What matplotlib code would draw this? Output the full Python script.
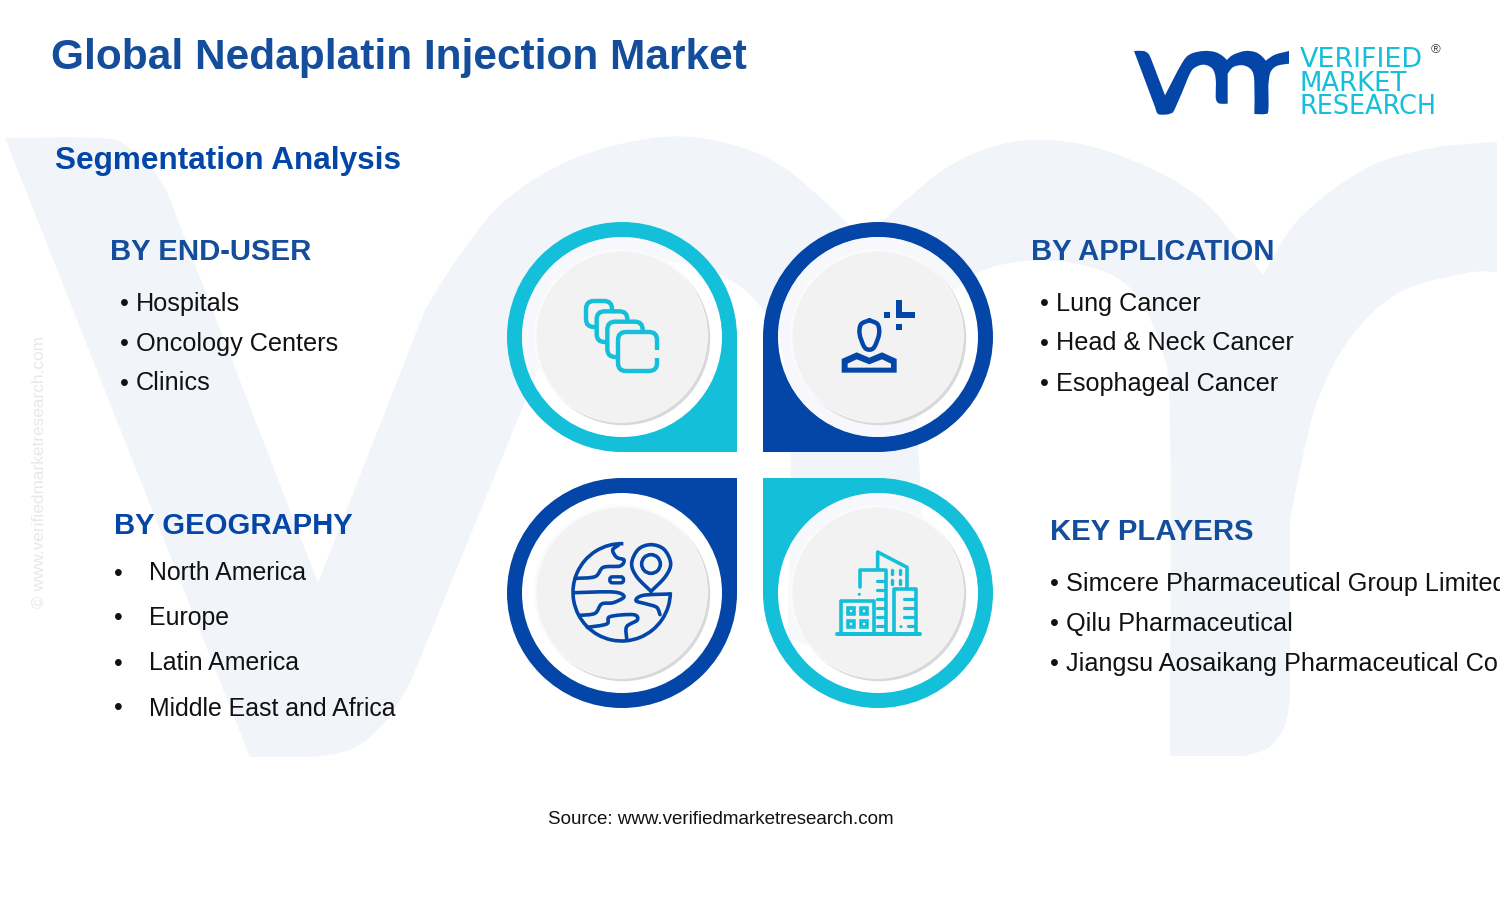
import matplotlib
matplotlib.use("Agg")
import matplotlib.pyplot as plt
from matplotlib.path import Path
from matplotlib.patches import PathPatch, Circle, FancyBboxPatch, Polygon, Rectangle, Arc

NAVY = "#0445a8"
TEAL = "#14bfd9"
HEAD = "#134d9b"
INK = "#111111"

TITLE = "Global Nedaplatin Injection Market"
SUBTITLE = "Segmentation Analysis"
SOURCE = "Source: www.verifiedmarketresearch.com"
WATERMARK = "© www.verifiedmarketresearch.com"
LOGO_WORDS = ["VERIFIED", "MARKET", "RESEARCH"]
END_USER = ["Hospitals", "Oncology Centers", "Clinics"]
APPLICATION = ["Lung Cancer", "Head & Neck Cancer", "Esophageal Cancer"]
GEOGRAPHY = ["North America", "Europe", "Latin America", "Middle East and Africa"]
PLAYERS = ["Simcere Pharmaceutical Group Limited", "Qilu Pharmaceutical",
           "Jiangsu Aosaikang Pharmaceutical Co"]

plt.rcParams["font.family"] = ["Liberation Sans", "DejaVu Sans"]
fig = plt.figure(figsize=(15, 9.11), dpi=100)
ax = fig.add_axes([0, 0, 1, 1])
ax.set_xlim(0, 1500)
ax.set_ylim(911, 0)
ax.axis("off")
PX = 0.72


def curve_path(pieces, ox=0.0, oy=0.0, s=1.0, closed=True):
    """Join pieces of points; inside a piece the outline is smooth, between pieces it has a corner."""
    verts, codes = [], []
    for k, pts in enumerate(pieces):
        if k == 0:
            verts.append(pts[0])
            codes.append(Path.MOVETO)
        else:
            verts.append(pts[0])
            codes.append(Path.LINETO)
        n = len(pts)
        for i in range(n - 1):
            p0 = pts[max(i - 1, 0)]
            p1, p2 = pts[i], pts[i + 1]
            p3 = pts[min(i + 2, n - 1)]
            verts.append((p1[0] + (p2[0] - p0[0]) / 6, p1[1] + (p2[1] - p0[1]) / 6))
            verts.append((p2[0] - (p3[0] - p1[0]) / 6, p2[1] - (p3[1] - p1[1]) / 6))
            verts.append(p2)
            codes += [Path.CURVE4] * 3
    if closed:
        verts.append(verts[0])
        codes.append(Path.LINETO)
    return Path([(ox + x * s, oy + y * s) for x, y in verts], codes)


# background watermark, traced in pixels
WM_PIECES = [
    [(5, 138), (100, 138), (128, 147), (153, 170), (167, 192)],
    [(167, 192), (318, 583)],
    [(318, 583), (425, 310)],
    [(425, 310), (455, 262), (500, 205), (560, 165), (630, 142), (700, 138), (780, 165), (865, 240)],
    [(865, 240), (900, 205), (960, 160), (1030, 140), (1110, 152), (1200, 198), (1263, 275)],
    [(1263, 275), (1300, 218), (1367, 168), (1433, 148), (1497, 142)],
    [(1497, 142), (1497, 272)],
    [(1497, 272), (1467, 273), (1400, 292), (1350, 338), (1317, 402), (1300, 470), (1290, 520)],
    [(1290, 520), (1290, 700)],
    [(1290, 700), (1284, 728), (1268, 748), (1245, 756)],
    [(1245, 756), (1170, 756)],
    [(1170, 756), (1170, 425), (1160, 345), (1127, 285), (1067, 262), (1000, 265), (955, 290), (913, 350)],
    [(913, 350), (913, 640), (788, 640)],
    [(788, 640), (788, 390), (750, 295), (667, 262), (600, 290), (537, 372)],
    [(537, 372), (410, 683)],
    [(410, 683), (385, 722), (352, 749), (312, 757)],
    [(312, 757), (250, 757)],
    [(250, 757), (5, 138)],
]
WM_PATH = curve_path(WM_PIECES)
WM_COLOR = "#f1f4f9"
ax.add_patch(PathPatch(WM_PATH, fc=WM_COLOR, ec="none", zorder=1))

# logo, traced in zoomed-crop units (3 units per pixel)
LOGO_PIECES = [
    [(27, 27), (55, 27), (70, 35), (78, 50)],
    [(78, 50), (120, 160)],
    [(120, 160), (170, 65), (195, 37), (235, 27), (270, 30), (293, 42), (305, 54)],
    [(305, 54), (325, 38), (360, 27), (390, 30), (410, 42), (422, 56)],
    [(422, 56), (450, 38), (492, 27)],
    [(492, 27), (492, 65)],
    [(492, 65), (455, 72), (436, 92), (430, 130)],
    [(430, 130), (430, 205), (420, 216), (388, 216)],
    [(388, 216), (388, 120), (380, 85), (355, 70), (325, 75), (308, 95)],
    [(308, 95), (308, 185)],
    [(308, 185), (285, 185), (275, 178), (272, 165)],
    [(272, 165), (272, 110), (262, 80), (235, 68), (205, 80), (190, 105)],
    [(190, 105), (150, 200), (135, 215), (115, 218), (98, 215), (90, 195)],
    [(90, 195), (27, 27)],
]
ax.add_patch(PathPatch(curve_path(LOGO_PIECES, 1125, 42, 1 / 3), fc=NAVY, ec="none", zorder=2))
for word, y, fs in zip(LOGO_WORDS, [60, 84, 107], [27, 26, 25.5]):
    ax.text(1300, y, word, color=TEAL, fontsize=fs * PX, family="DejaVu Sans",
            va="center", ha="left", zorder=3)
ax.text(1436, 50, "®", color="#444444", fontsize=13 * PX, ha="center", va="center", zorder=3)

ax.text(51, 57.5, TITLE, color=HEAD, fontsize=42.4 * PX, fontweight="bold", va="center", zorder=3)
ax.text(55, 161.5, SUBTITLE, color=NAVY, fontsize=31.5 * PX, fontweight="bold", va="center", zorder=3)
ax.text(39, 472, WATERMARK, color="#e6e8ec", fontsize=17.2 * PX, rotation=90,
        ha="center", va="center", zorder=3)
ax.text(721, 820, SOURCE, color=INK, fontsize=18.8 * PX, ha="center", va="center", zorder=3)


def bullets(head, hx, hy, items, bx, tx, ys, fs=25.3, hc=HEAD):
    ax.text(hx, hy + 2, head, color=hc, fontsize=29.3 * PX, fontweight="bold", va="center", zorder=3)
    for it, y in zip(items, ys):
        ax.text(bx, y + 1.5, "•", color=INK, fontsize=fs * PX, ha="left", va="center", zorder=3)
        ax.text(tx, y + 1.5, it, color=INK, fontsize=fs * PX, ha="left", va="center",
                clip_on=True, zorder=3)


bullets("BY END-USER", 110, 250, END_USER, 120, 136, [302, 342, 382])
bullets("BY APPLICATION", 1031, 250, APPLICATION, 1040, 1056, [302, 342, 382])
bullets("BY GEOGRAPHY", 114, 524, GEOGRAPHY, 114, 149, [572, 617, 662, 707], fs=24.9, hc=NAVY)
bullets("KEY PLAYERS", 1050, 530, PLAYERS, 1050, 1066, [582, 622, 662])


def teardrop(cx, cy, col, sx, sy):
    R = 115
    ax.add_patch(Circle((cx, cy), R, fc=col, ec="none", zorder=4))
    ax.add_patch(Rectangle((cx, cy), sx * R, sy * R, fc=col, ec="none", zorder=4))
    hole = Circle((cx, cy), 100, fc="white", ec="none", zorder=5)
    ax.add_patch(hole)
    ghost = PathPatch(WM_PATH, fc=WM_COLOR, ec="none", alpha=0.6, zorder=5)
    ax.add_patch(ghost)
    ghost.set_clip_path(hole)
    ax.add_patch(Circle((cx + 1.2, cy + 1.2), 87, fc="#d8d8d8", ec="none", zorder=6))
    ax.add_patch(Circle((cx - 1.2, cy - 1.2), 87, fc="#fbfbfb", ec="none", zorder=6))
    ax.add_patch(Circle((cx, cy), 85.5, fc="#f2f2f2", ec="none", zorder=6))


teardrop(622, 337, TEAL, 1, 1)
teardrop(878, 337, NAVY, -1, 1)
teardrop(622, 593, NAVY, 1, -1)
teardrop(878, 593, TEAL, -1, -1)


def line(pts, ox, oy, col, lw=4, closed=False, fill="none", z=7):
    xy = [(ox + x / 3, oy + y / 3) for x, y in pts]
    ax.add_patch(Polygon(xy, closed=closed, fc=fill, ec=col, lw=lw * PX, zorder=z,
                         joinstyle="round", capstyle="round"))


def smooth(pts, ox, oy, col, lw=3.4):
    ax.add_patch(PathPatch(curve_path([pts], ox, oy, 1 / 3, closed=False), fc="none", ec=col,
                           lw=lw * PX, zorder=7, capstyle="round"))


# icon 1: stacked rounded squares
ox, oy = 500, 215
for i, w in enumerate([78, 92, 106, 117]):
    lx, ty = 258 + 32 * i, 258 + 31 * i
    ax.add_patch(FancyBboxPatch((ox + (lx + 24) / 3, oy + (ty + 24) / 3), (w - 48) / 3, (w - 48) / 3,
                                boxstyle="round,pad=8", fc="#f2f2f2", ec=TEAL, lw=4.4 * PX, zorder=7))
ax.add_patch(Rectangle((ox + 460 / 3, oy + 406 / 3), 24 / 3, 24 / 3, fc="#f2f2f2", ec="none", zorder=7))

# icon 2: person with focus marks
ox, oy = 755, 215
smooth([(343, 316), (368, 328), (372, 358), (358, 396), (343, 404), (328, 396), (314, 358), (318, 328), (343, 316)],
       ox, oy, NAVY, 4.4)
line([(260, 473), (260, 432), (305, 412), (343, 428), (381, 412), (425, 432), (425, 473)], ox, oy, NAVY, 0,
     closed=True, fill=NAVY)
line([(278, 458), (278, 446), (305, 433), (343, 448), (381, 433), (408, 446), (408, 458)], ox, oy, "#f2f2f2", 0,
     closed=True, fill="#f2f2f2")
for x, y, w, h in [(424, 255, 18, 55), (424, 291, 56, 19), (388, 292, 18, 18), (424, 328, 18, 18)]:
    ax.add_patch(Rectangle((ox + x / 3, oy + y / 3), w / 3, h / 3, fc=NAVY, ec="none", zorder=7))

# icon 3: globe with pin
ox, oy = 500, 470
ax.add_patch(Arc((ox + 365 / 3, oy + 367 / 3), 292 / 3, 292 / 3, theta1=0, theta2=272,
                 ec=NAVY, lw=3.6 * PX, zorder=7))
for c in [[(355, 226), (338, 240), (350, 262), (372, 270), (360, 288), (310, 292), (285, 320), (225, 325)],
          [(225, 368), (340, 366), (372, 380), (340, 398), (305, 402), (285, 430), (240, 436)],
          [(510, 372), (430, 376), (408, 392), (440, 402), (470, 412), (480, 434)],
          [(262, 472), (320, 462), (330, 440), (400, 434), (412, 450), (380, 470), (380, 505)]]:
    smooth(c, ox, oy, NAVY, 3.6)
ax.add_patch(FancyBboxPatch((ox + 337 / 3, oy + 328 / 3), 26 / 3, 3 / 3, boxstyle="round,pad=2.5",
                            fc="none", ec=NAVY, lw=3.4 * PX, zorder=7))
smooth([(453, 364), (410, 320), (395, 280), (415, 238), (453, 224), (492, 238), (512, 280), (496, 320), (453, 364)],
       ox, oy, NAVY, 3.6)
ax.add_patch(Circle((ox + 453 / 3, oy + 282 / 3), 28 / 3, fc="none", ec=NAVY, lw=3.6 * PX, zorder=7))

# icon 4: city buildings
ox, oy = 755, 470
line([(245, 491), (495, 491)], ox, oy, TEAL, 4)
line([(257, 488), (257, 394), (358, 394), (358, 488)], ox, oy, TEAL, 3.6)
line([(314, 350), (314, 300), (394, 300), (394, 488)], ox, oy, TEAL, 3.6)
line([(368, 296), (368, 246), (456, 292), (456, 356)], ox, oy, TEAL, 3.6)
line([(416, 488), (416, 358), (484, 358), (484, 488)], ox, oy, TEAL, 3.6)
for y in [332, 359, 386, 413, 441, 468]:
    line([(366, y), (388, y)], ox, oy, TEAL, 3.2)
for y in [388, 415, 442]:
    line([(448, y), (478, y)], ox, oy, TEAL, 3.2)
line([(460, 469), (478, 469)], ox, oy, TEAL, 3.2)
for x, y in [(313, 373), (438, 470)]:
    ax.add_patch(Circle((ox + x / 3, oy + y / 3), 1.5, fc=TEAL, ec="none", zorder=7))
for x in [288, 326]:
    for y in [423, 462]:
        ax.add_patch(Rectangle((ox + (x - 9) / 3, oy + (y - 9) / 3), 18 / 3, 18 / 3, fc="none", ec=TEAL,
                               lw=3.6 * PX, zorder=7))
for x in [412, 434]:
    for y in [307, 337]:
        line([(x, y - 6), (x, y + 6)], ox, oy, TEAL, 3.4)

fig.savefig("out.png", dpi=100, facecolor="white")
